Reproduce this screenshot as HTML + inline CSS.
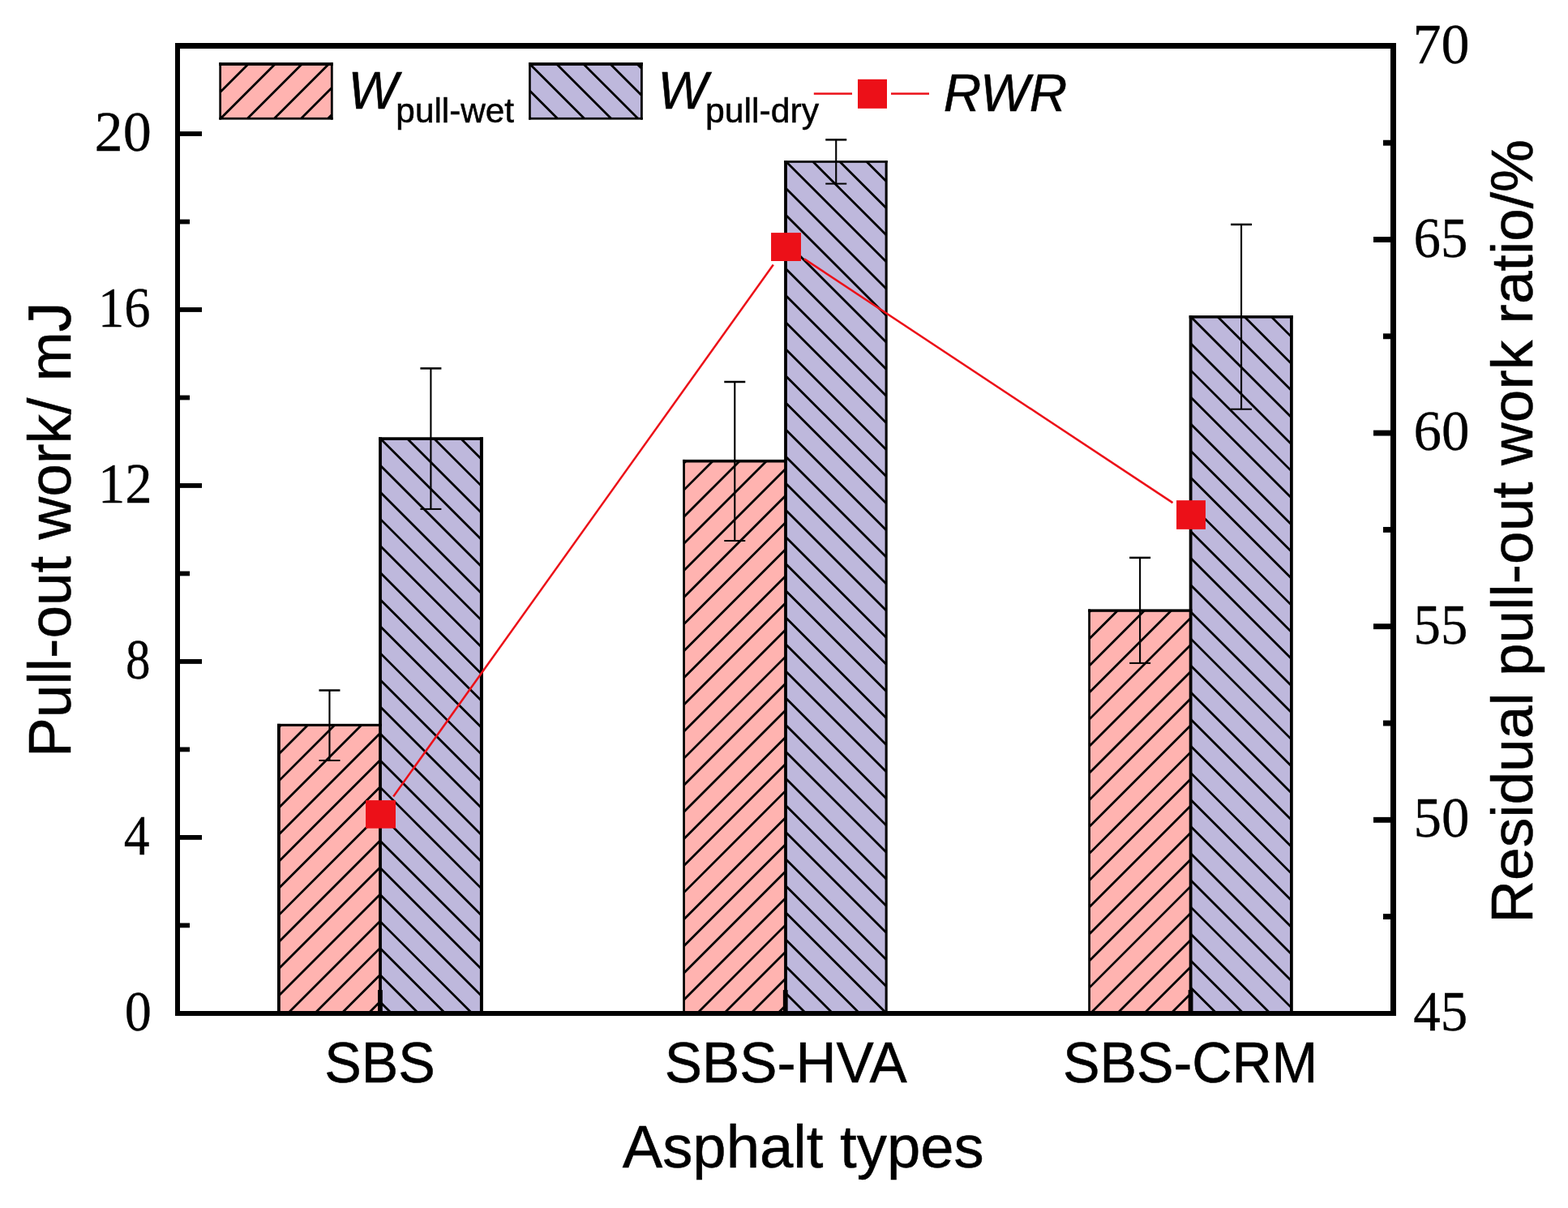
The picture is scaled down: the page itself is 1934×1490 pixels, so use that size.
<!DOCTYPE html><html><head><meta charset="utf-8"><style>html,body{margin:0;padding:0;background:#fff;}svg{display:block;}</style></head><body>
<svg width="1934" height="1490" viewBox="0 0 1934 1490">
<rect x="0" y="0" width="1934" height="1490" fill="#fff"/>
<defs><clipPath id="c1"><rect x="343.96" y="894.35" width="124.96" height="355.55"/></clipPath><clipPath id="c2"><rect x="468.92" y="541.15" width="124.96" height="708.75"/></clipPath><clipPath id="c3"><rect x="843.79" y="568.70" width="124.96" height="681.20"/></clipPath><clipPath id="c4"><rect x="968.75" y="199.45" width="124.96" height="1050.45"/></clipPath><clipPath id="c5"><rect x="1343.62" y="753.10" width="124.96" height="496.80"/></clipPath><clipPath id="c6"><rect x="1468.58" y="390.90" width="124.96" height="859.00"/></clipPath><clipPath id="c7"><rect x="271.65" y="78.45" width="137.70" height="67.80"/></clipPath><clipPath id="c8"><rect x="653.45" y="78.45" width="138.00" height="67.80"/></clipPath></defs>
<rect x="343.96" y="894.35" width="124.96" height="355.55" fill="#FFB3B0"/><g clip-path="url(#c1)" stroke="#000" stroke-width="2.8" fill="none"><path d="M337.96 836.75L474.92 699.79M337.96 869.85L474.92 732.89M337.96 902.95L474.92 765.99M337.96 936.05L474.92 799.09M337.96 969.15L474.92 832.19M337.96 1002.25L474.92 865.29M337.96 1035.35L474.92 898.39M337.96 1068.45L474.92 931.49M337.96 1101.55L474.92 964.59M337.96 1134.65L474.92 997.69M337.96 1167.75L474.92 1030.79M337.96 1200.85L474.92 1063.89M337.96 1233.95L474.92 1096.99M337.96 1267.05L474.92 1130.09M337.96 1300.15L474.92 1163.19M337.96 1333.25L474.92 1196.29M337.96 1366.35L474.92 1229.39M337.96 1399.45L474.92 1262.49"/></g>
<rect x="468.92" y="541.15" width="124.96" height="708.75" fill="#BEB8DC"/><g clip-path="url(#c2)" stroke="#000" stroke-width="2.8" fill="none"><path d="M462.92 369.25L599.88 506.21M462.92 402.35L599.88 539.31M462.92 435.45L599.88 572.41M462.92 468.55L599.88 605.51M462.92 501.65L599.88 638.61M462.92 534.75L599.88 671.71M462.92 567.85L599.88 704.81M462.92 600.95L599.88 737.91M462.92 634.05L599.88 771.01M462.92 667.15L599.88 804.11M462.92 700.25L599.88 837.21M462.92 733.35L599.88 870.31M462.92 766.45L599.88 903.41M462.92 799.55L599.88 936.51M462.92 832.65L599.88 969.61M462.92 865.75L599.88 1002.71M462.92 898.85L599.88 1035.81M462.92 931.95L599.88 1068.91M462.92 965.05L599.88 1102.01M462.92 998.15L599.88 1135.11M462.92 1031.25L599.88 1168.21M462.92 1064.35L599.88 1201.31M462.92 1097.45L599.88 1234.41M462.92 1130.55L599.88 1267.51M462.92 1163.65L599.88 1300.61M462.92 1196.75L599.88 1333.71M462.92 1229.85L599.88 1366.81M462.92 1262.95L599.88 1399.91"/></g>
<rect x="843.79" y="568.70" width="124.96" height="681.20" fill="#FFB3B0"/><g clip-path="url(#c3)" stroke="#000" stroke-width="2.8" fill="none"><path d="M837.79 510.80L974.75 373.84M837.79 543.90L974.75 406.94M837.79 577.00L974.75 440.04M837.79 610.10L974.75 473.14M837.79 643.20L974.75 506.24M837.79 676.30L974.75 539.34M837.79 709.40L974.75 572.44M837.79 742.50L974.75 605.54M837.79 775.60L974.75 638.64M837.79 808.70L974.75 671.74M837.79 841.80L974.75 704.84M837.79 874.90L974.75 737.94M837.79 908.00L974.75 771.04M837.79 941.10L974.75 804.14M837.79 974.20L974.75 837.24M837.79 1007.30L974.75 870.34M837.79 1040.40L974.75 903.44M837.79 1073.50L974.75 936.54M837.79 1106.60L974.75 969.64M837.79 1139.70L974.75 1002.74M837.79 1172.80L974.75 1035.84M837.79 1205.90L974.75 1068.94M837.79 1239.00L974.75 1102.04M837.79 1272.10L974.75 1135.14M837.79 1305.20L974.75 1168.24M837.79 1338.30L974.75 1201.34M837.79 1371.40L974.75 1234.44M837.79 1404.50L974.75 1267.54"/></g>
<rect x="968.75" y="199.45" width="124.96" height="1050.45" fill="#BEB8DC"/><g clip-path="url(#c4)" stroke="#000" stroke-width="2.8" fill="none"><path d="M962.75 27.05L1099.71 164.01M962.75 60.15L1099.71 197.11M962.75 93.25L1099.71 230.21M962.75 126.35L1099.71 263.31M962.75 159.45L1099.71 296.41M962.75 192.55L1099.71 329.51M962.75 225.65L1099.71 362.61M962.75 258.75L1099.71 395.71M962.75 291.85L1099.71 428.81M962.75 324.95L1099.71 461.91M962.75 358.05L1099.71 495.01M962.75 391.15L1099.71 528.11M962.75 424.25L1099.71 561.21M962.75 457.35L1099.71 594.31M962.75 490.45L1099.71 627.41M962.75 523.55L1099.71 660.51M962.75 556.65L1099.71 693.61M962.75 589.75L1099.71 726.71M962.75 622.85L1099.71 759.81M962.75 655.95L1099.71 792.91M962.75 689.05L1099.71 826.01M962.75 722.15L1099.71 859.11M962.75 755.25L1099.71 892.21M962.75 788.35L1099.71 925.31M962.75 821.45L1099.71 958.41M962.75 854.55L1099.71 991.51M962.75 887.65L1099.71 1024.61M962.75 920.75L1099.71 1057.71M962.75 953.85L1099.71 1090.81M962.75 986.95L1099.71 1123.91M962.75 1020.05L1099.71 1157.01M962.75 1053.15L1099.71 1190.11M962.75 1086.25L1099.71 1223.21M962.75 1119.35L1099.71 1256.31M962.75 1152.45L1099.71 1289.41M962.75 1185.55L1099.71 1322.51M962.75 1218.65L1099.71 1355.61M962.75 1251.75L1099.71 1388.71"/></g>
<rect x="1343.62" y="753.10" width="124.96" height="496.80" fill="#FFB3B0"/><g clip-path="url(#c5)" stroke="#000" stroke-width="2.8" fill="none"><path d="M1337.62 694.65L1474.58 557.69M1337.62 727.75L1474.58 590.79M1337.62 760.85L1474.58 623.89M1337.62 793.95L1474.58 656.99M1337.62 827.05L1474.58 690.09M1337.62 860.15L1474.58 723.19M1337.62 893.25L1474.58 756.29M1337.62 926.35L1474.58 789.39M1337.62 959.45L1474.58 822.49M1337.62 992.55L1474.58 855.59M1337.62 1025.65L1474.58 888.69M1337.62 1058.75L1474.58 921.79M1337.62 1091.85L1474.58 954.89M1337.62 1124.95L1474.58 987.99M1337.62 1158.05L1474.58 1021.09M1337.62 1191.15L1474.58 1054.19M1337.62 1224.25L1474.58 1087.29M1337.62 1257.35L1474.58 1120.39M1337.62 1290.45L1474.58 1153.49M1337.62 1323.55L1474.58 1186.59M1337.62 1356.65L1474.58 1219.69M1337.62 1389.75L1474.58 1252.79"/></g>
<rect x="1468.58" y="390.90" width="124.96" height="859.00" fill="#BEB8DC"/><g clip-path="url(#c6)" stroke="#000" stroke-width="2.8" fill="none"><path d="M1462.58 219.00L1599.54 355.96M1462.58 252.10L1599.54 389.06M1462.58 285.20L1599.54 422.16M1462.58 318.30L1599.54 455.26M1462.58 351.40L1599.54 488.36M1462.58 384.50L1599.54 521.46M1462.58 417.60L1599.54 554.56M1462.58 450.70L1599.54 587.66M1462.58 483.80L1599.54 620.76M1462.58 516.90L1599.54 653.86M1462.58 550.00L1599.54 686.96M1462.58 583.10L1599.54 720.06M1462.58 616.20L1599.54 753.16M1462.58 649.30L1599.54 786.26M1462.58 682.40L1599.54 819.36M1462.58 715.50L1599.54 852.46M1462.58 748.60L1599.54 885.56M1462.58 781.70L1599.54 918.66M1462.58 814.80L1599.54 951.76M1462.58 847.90L1599.54 984.86M1462.58 881.00L1599.54 1017.96M1462.58 914.10L1599.54 1051.06M1462.58 947.20L1599.54 1084.16M1462.58 980.30L1599.54 1117.26M1462.58 1013.40L1599.54 1150.36M1462.58 1046.50L1599.54 1183.46M1462.58 1079.60L1599.54 1216.56M1462.58 1112.70L1599.54 1249.66M1462.58 1145.80L1599.54 1282.76M1462.58 1178.90L1599.54 1315.86M1462.58 1212.00L1599.54 1348.96M1462.58 1245.10L1599.54 1382.06"/></g>
<rect x="342.0" y="892.8" width="3.80" height="357.10"/>
<rect x="467.1" y="539.3" width="3.80" height="710.60"/>
<rect x="591.9" y="539.3" width="4.00" height="710.60"/>
<rect x="342.0" y="892.8" width="128.90" height="3.10"/>
<rect x="467.1" y="539.3" width="128.80" height="3.70"/>
<rect x="842.2" y="566.9" width="2.70" height="683.00"/>
<rect x="967.1" y="198.1" width="3.80" height="1051.80"/>
<rect x="1091.6" y="198.1" width="3.10" height="1051.80"/>
<rect x="842.2" y="566.9" width="128.70" height="3.60"/>
<rect x="967.1" y="198.1" width="127.60" height="2.70"/>
<rect x="1342.2" y="751.4" width="2.70" height="498.50"/>
<rect x="1466.7" y="389.1" width="3.80" height="860.80"/>
<rect x="1591.0" y="389.1" width="3.80" height="860.80"/>
<rect x="1342.2" y="751.4" width="128.30" height="3.40"/>
<rect x="1466.7" y="389.1" width="128.10" height="3.50"/>
<rect x="405.39" y="851.50" width="2.1" height="86.50"/>
<rect x="393.44" y="850.25" width="26" height="2.5"/>
<rect x="393.44" y="937.00" width="26" height="2.0"/>
<rect x="530.35" y="454.40" width="2.1" height="173.50"/>
<rect x="518.40" y="453.15" width="26" height="2.5"/>
<rect x="518.40" y="626.90" width="26" height="2.0"/>
<rect x="905.22" y="471.00" width="2.1" height="196.00"/>
<rect x="893.27" y="469.75" width="26" height="2.5"/>
<rect x="893.27" y="666.00" width="26" height="2.0"/>
<rect x="1030.18" y="172.35" width="2.1" height="54.25"/>
<rect x="1018.23" y="171.10" width="26" height="2.5"/>
<rect x="1018.23" y="225.60" width="26" height="2.0"/>
<rect x="1405.05" y="687.90" width="2.1" height="130.00"/>
<rect x="1393.10" y="686.65" width="26" height="2.5"/>
<rect x="1393.10" y="816.90" width="26" height="2.0"/>
<rect x="1530.01" y="276.90" width="2.1" height="227.80"/>
<rect x="1518.06" y="275.65" width="26" height="2.5"/>
<rect x="1518.06" y="503.70" width="26" height="2.0"/>
<line x1="485.19" y1="982.43" x2="953.81" y2="326.47" stroke="#EC1018" stroke-width="2.5"/>
<line x1="992.02" y1="319.40" x2="1446.48" y2="620.10" stroke="#EC1018" stroke-width="2.5"/>
<rect x="219" y="1030.02" width="30" height="5.8"/>
<rect x="219" y="813.04" width="30" height="5.8"/>
<rect x="219" y="596.06" width="30" height="5.8"/>
<rect x="219" y="379.08" width="30" height="5.8"/>
<rect x="219" y="162.10" width="30" height="5.8"/>
<rect x="219" y="1138.51" width="15" height="5.8"/>
<rect x="219" y="921.53" width="15" height="5.8"/>
<rect x="219" y="704.55" width="15" height="5.8"/>
<rect x="219" y="487.57" width="15" height="5.8"/>
<rect x="219" y="270.59" width="15" height="5.8"/>
<rect x="1694" y="1007.85" width="24" height="6.9"/>
<rect x="1694" y="769.25" width="24" height="6.9"/>
<rect x="1694" y="530.65" width="24" height="6.9"/>
<rect x="1694" y="292.05" width="24" height="6.9"/>
<rect x="1706" y="1127.15" width="12" height="6.9"/>
<rect x="1706" y="888.55" width="12" height="6.9"/>
<rect x="1706" y="649.95" width="12" height="6.9"/>
<rect x="1706" y="411.35" width="12" height="6.9"/>
<rect x="1706" y="172.75" width="12" height="6.9"/>
<rect x="466.02" y="1221.1" width="5.8" height="29"/>
<rect x="965.85" y="1221.1" width="5.8" height="29"/>
<rect x="1465.68" y="1221.1" width="5.8" height="29"/>
<rect x="451.05" y="987.10" width="36.95" height="34.60" fill="#EC1018"/>
<rect x="951.05" y="287.10" width="36.95" height="34.90" fill="#EC1018"/>
<rect x="1451.05" y="617.15" width="35.89" height="35.70" fill="#EC1018"/>
<rect x="216" y="53" width="6" height="1200"/>
<rect x="1715" y="53" width="7" height="1200"/>
<rect x="216" y="53" width="1506" height="7"/>
<rect x="216" y="1247" width="1506" height="6"/>
<text transform="matrix(0.9467 0 0 1 186.76 1270.90)" text-anchor="end" style="font-family:&quot;Liberation Serif&quot;,serif;stroke:#000;stroke-width:0.3px;font-size:70px">0</text>
<text transform="matrix(0.9091 0 0 1 184.64 1053.92)" text-anchor="end" style="font-family:&quot;Liberation Serif&quot;,serif;stroke:#000;stroke-width:0.3px;font-size:70px">4</text>
<text transform="matrix(0.8700 0 0 1 185.35 836.94)" text-anchor="end" style="font-family:&quot;Liberation Serif&quot;,serif;stroke:#000;stroke-width:0.3px;font-size:70px">8</text>
<text transform="matrix(0.9525 0 0 1 187.57 619.96)" text-anchor="end" style="font-family:&quot;Liberation Serif&quot;,serif;stroke:#000;stroke-width:0.3px;font-size:70px">12</text>
<text transform="matrix(0.9226 0 0 1 185.57 402.98)" text-anchor="end" style="font-family:&quot;Liberation Serif&quot;,serif;stroke:#000;stroke-width:0.3px;font-size:70px">16</text>
<text transform="matrix(1.0023 0 0 1 186.76 186.00)" text-anchor="end" style="font-family:&quot;Liberation Serif&quot;,serif;stroke:#000;stroke-width:0.3px;font-size:70px">20</text>
<text transform="matrix(0.9576 0 0 1 1743.26 1270.90)" style="font-family:&quot;Liberation Serif&quot;,serif;stroke:#000;stroke-width:0.3px;font-size:70px">45</text>
<text transform="matrix(0.9857 0 0 1 1743.46 1032.30)" style="font-family:&quot;Liberation Serif&quot;,serif;stroke:#000;stroke-width:0.3px;font-size:70px">50</text>
<text transform="matrix(0.9556 0 0 1 1743.60 793.70)" style="font-family:&quot;Liberation Serif&quot;,serif;stroke:#000;stroke-width:0.3px;font-size:70px">55</text>
<text transform="matrix(0.9859 0 0 1 1743.45 555.10)" style="font-family:&quot;Liberation Serif&quot;,serif;stroke:#000;stroke-width:0.3px;font-size:70px">60</text>
<text transform="matrix(0.9562 0 0 1 1743.55 316.50)" style="font-family:&quot;Liberation Serif&quot;,serif;stroke:#000;stroke-width:0.3px;font-size:70px">65</text>
<text transform="matrix(1.0016 0 0 1 1742.39 77.90)" style="font-family:&quot;Liberation Serif&quot;,serif;stroke:#000;stroke-width:0.3px;font-size:70px">70</text>
<text transform="translate(400.30,1334.7) scale(1.0,1.036)" style="font-family:&quot;Liberation Sans&quot;,Arial,sans-serif;stroke:#000;stroke-width:0.5px;font-size:68.2px">SBS</text>
<text transform="translate(819.75,1334.7) scale(1.016,1.036)" style="font-family:&quot;Liberation Sans&quot;,Arial,sans-serif;stroke:#000;stroke-width:0.5px;font-size:68.2px">SBS-HVA</text>
<text transform="translate(1311.00,1334.7) scale(1.0,1.036)" style="font-family:&quot;Liberation Sans&quot;,Arial,sans-serif;stroke:#000;stroke-width:0.5px;font-size:68.2px">SBS-CRM</text>
<text transform="translate(767.65,1439.8)" style="font-family:&quot;Liberation Sans&quot;,Arial,sans-serif;stroke:#000;stroke-width:0.5px;font-size:74.3px">Asphalt types</text>
<text transform="translate(87,934.00) rotate(-90)" style="font-family:&quot;Liberation Sans&quot;,Arial,sans-serif;stroke:#000;stroke-width:0.5px;font-size:73.2px">Pull-out work/ mJ</text>
<text transform="translate(1889.5,1138.79) rotate(-90)" style="font-family:&quot;Liberation Sans&quot;,Arial,sans-serif;stroke:#000;stroke-width:0.5px;font-size:73.1px">Residual pull-out work ratio/%</text>
<rect x="271.65" y="78.45" width="137.70" height="67.80" fill="#FFB3B0"/><g clip-path="url(#c7)" stroke="#000" stroke-width="2.8" fill="none"><path d="M265.65 20.25L415.35 -129.45M265.65 53.35L415.35 -96.35M265.65 86.45L415.35 -63.25M265.65 119.55L415.35 -30.15M265.65 152.65L415.35 2.95M265.65 185.75L415.35 36.05M265.65 218.85L415.35 69.15M265.65 251.95L415.35 102.25M265.65 285.05L415.35 135.35M265.65 318.15L415.35 168.45"/></g><rect x="270.30" y="77.10" width="140.40" height="3.8"/><rect x="270.30" y="144.90" width="140.40" height="2.7"/><rect x="270.30" y="77.10" width="2.7" height="70.50"/><rect x="407.90" y="77.10" width="2.8" height="70.50"/>
<rect x="653.45" y="78.45" width="138.00" height="67.80" fill="#BEB8DC"/><g clip-path="url(#c8)" stroke="#000" stroke-width="2.8" fill="none"><path d="M647.45 -125.65L797.45 24.35M647.45 -92.55L797.45 57.45M647.45 -59.45L797.45 90.55M647.45 -26.35L797.45 123.65M647.45 6.75L797.45 156.75M647.45 39.85L797.45 189.85M647.45 72.95L797.45 222.95M647.45 106.05L797.45 256.05M647.45 139.15L797.45 289.15M647.45 172.25L797.45 322.25"/></g><rect x="652.10" y="77.10" width="140.70" height="3.8"/><rect x="652.10" y="144.90" width="140.70" height="2.7"/><rect x="652.10" y="77.10" width="2.7" height="70.50"/><rect x="790.00" y="77.10" width="2.8" height="70.50"/>
<text x="429.17" y="133.7" style="font-family:&quot;Liberation Sans&quot;,Arial,sans-serif;stroke:#000;stroke-width:0.5px;font-style:italic;font-size:65.2px">W</text>
<text x="488.37" y="150.75" style="font-family:&quot;Liberation Sans&quot;,Arial,sans-serif;stroke:#000;stroke-width:0.5px;font-size:42.3px">pull-wet</text>
<text x="811.17" y="133.7" style="font-family:&quot;Liberation Sans&quot;,Arial,sans-serif;stroke:#000;stroke-width:0.5px;font-style:italic;font-size:65.2px">W</text>
<text x="870.05" y="150.75" style="font-family:&quot;Liberation Sans&quot;,Arial,sans-serif;stroke:#000;stroke-width:0.5px;font-size:42.7px">pull-dry</text>
<rect x="1003.8" y="114.3" width="47.2" height="2.5" fill="#EC1018"/>
<rect x="1099" y="114.3" width="47" height="2.5" fill="#EC1018"/>
<rect x="1058" y="97.8" width="36" height="36" fill="#EC1018"/>
<text x="1163.82" y="136.8" style="font-family:&quot;Liberation Sans&quot;,Arial,sans-serif;stroke:#000;stroke-width:0.5px;font-style:italic;font-size:64.3px">RWR</text>
</svg></body></html>
